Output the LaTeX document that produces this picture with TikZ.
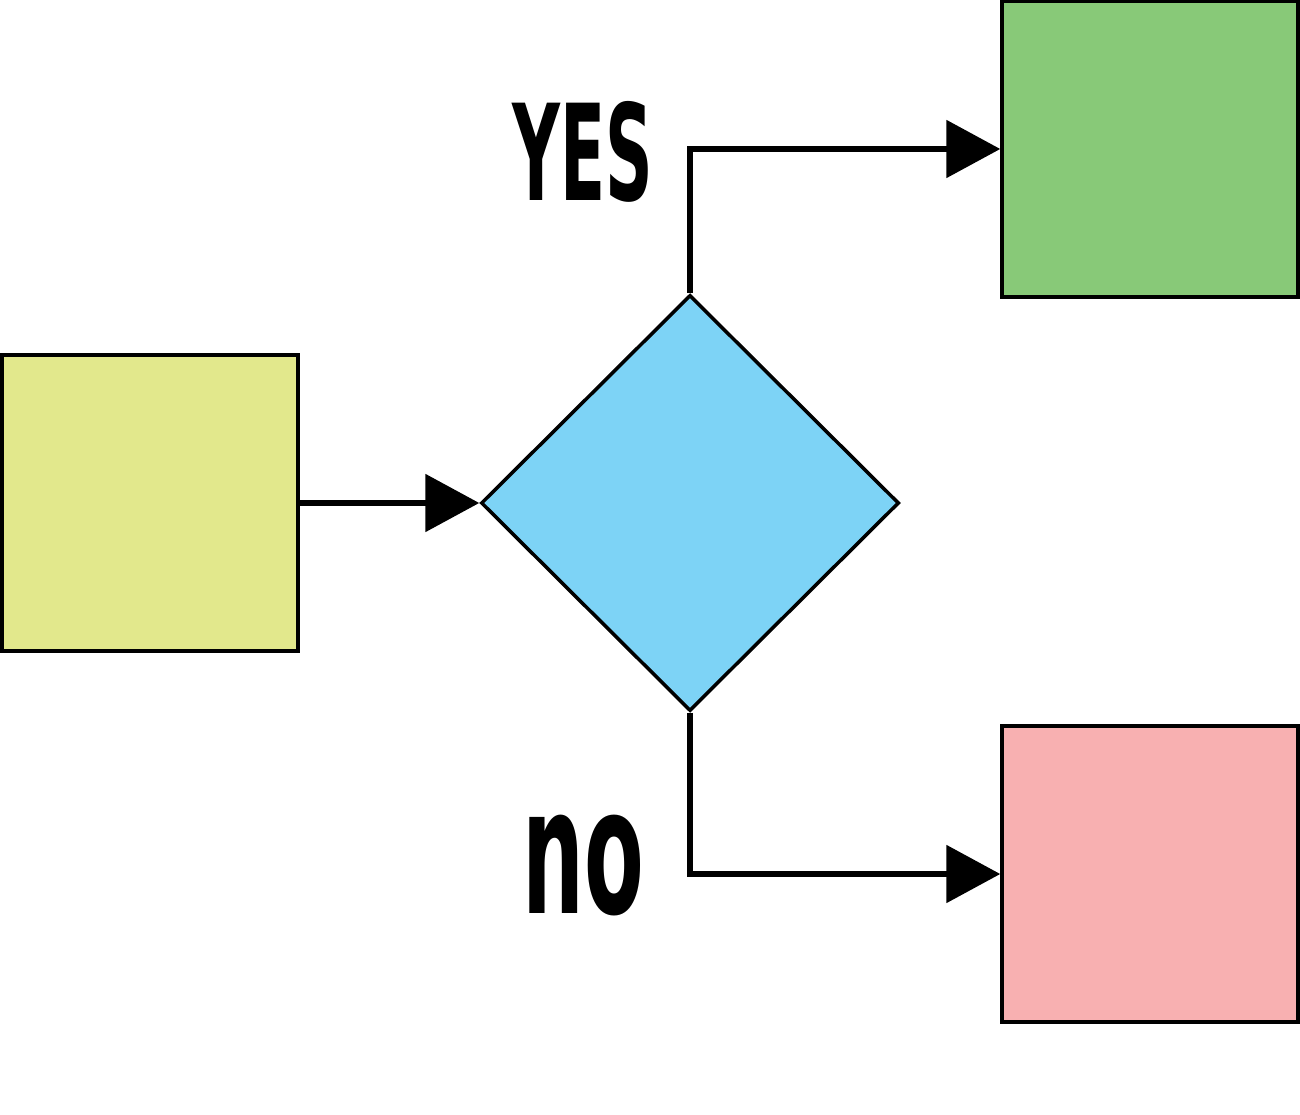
\documentclass[tikz,border=0pt]{standalone}
\usepackage{fontspec}
\newfontfamily\handfont{DejaVu Sans Condensed}
\usetikzlibrary{arrows.meta}
\usetikzlibrary{shapes}
\usetikzlibrary{positioning}

\definecolor{boxyellow}{HTML}{E2E88C}
\definecolor{boxblue}{HTML}{7DD3F6}
\definecolor{boxgreen}{HTML}{88C978}
\definecolor{boxpink}{HTML}{F8B0B1}

\begin{document}
\begin{tikzpicture}
            \tikzset{box/.style={rectangle, draw=black, line width=1pt, minimum width=2.96cm, minimum height=2.96cm, inner sep=0pt},
                    decision/.style={diamond, draw=black, line width=1pt, fill=boxblue, minimum width=4.18cm, minimum height=4.16cm, inner sep=0pt},
                    answer/.style={font=\handfont\bfseries, inner sep=0pt},
                    >={Triangle[length=5.4mm, width=5.7mm]},
                    flow/.style={draw=black, line width=1.6pt}}
            \useasboundingbox (0, 0) rectangle (13, 11.14);
            \fill[white] (0, 0) rectangle (13, 11.14);
            \node[box, fill=boxyellow] (start) at (1.50, 6.11) {};
            \node[decision] (check) at (6.90, 6.11) {};
            \node[box, fill=boxgreen] (yesbox) at (11.50, 9.65) {};
            \node[box, fill=boxpink] (nobox) at (11.50, 2.40) {};
            \coordinate (yescorner) at (check.north |- yesbox.west);
            \coordinate (nocorner) at (check.south |- nobox.west);
            \node[answer, left=3.6mm of yescorner, yshift=-0.3mm] (yes) {\scalebox{0.55}[1]{\fontsize{38}{38}\selectfont YES}};
            \node[answer, left=4.5mm of nocorner, yshift=0.8mm] (no) {\scalebox{0.55}[1]{\fontsize{50}{50}\selectfont no}};
            \draw [->, flow] (start.east) -- (check.west);
            \draw [->, flow] (check.north) |- (yesbox.west);
            \draw [->, flow] (check.south) |- (nobox.west);
        \end{tikzpicture}
\end{document}
